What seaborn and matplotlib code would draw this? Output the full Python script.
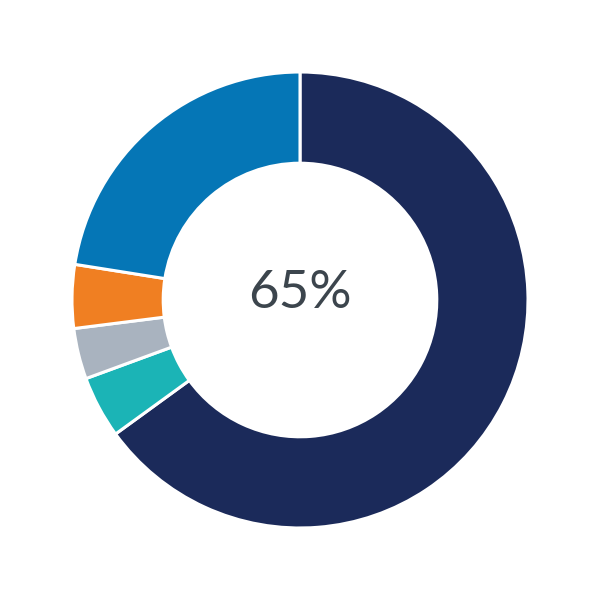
import matplotlib
matplotlib.use("Agg")
import matplotlib.pyplot as plt
import seaborn as sns

# segment shares, clockwise from 12 o'clock
labels = ["Navy", "Teal", "Gray", "Orange", "Blue"]
values = [65.0, 4.4, 3.6, 4.5, 22.5]
colors = ["#1b2a5a", "#1bb4b6", "#a9b3bf", "#f07f22", "#0576b6"]
center_text = "65%"

sns.set_theme(style="white")
plt.rcParams['font.family'] = ['Lato', 'DejaVu Sans']

fig = plt.figure(figsize=(6, 6), dpi=100)
ax = fig.add_axes([0, 0, 1, 1])
ax.pie(values, colors=sns.color_palette(colors), startangle=90, counterclock=False,
       radius=1.0,
       wedgeprops=dict(width=0.4, edgecolor="white", linewidth=2.2))
lim = 300 / 228
ax.set_xlim(-lim, lim)
ax.set_ylim(-lim, lim)
ax.set_aspect("equal")
ax.axis("off")
ax.text(0, 0.03, center_text, ha="center", va="center", fontsize=38,
        color="#3c454d", fontweight="normal")

fig.savefig("out.png", dpi=100, facecolor="white")
